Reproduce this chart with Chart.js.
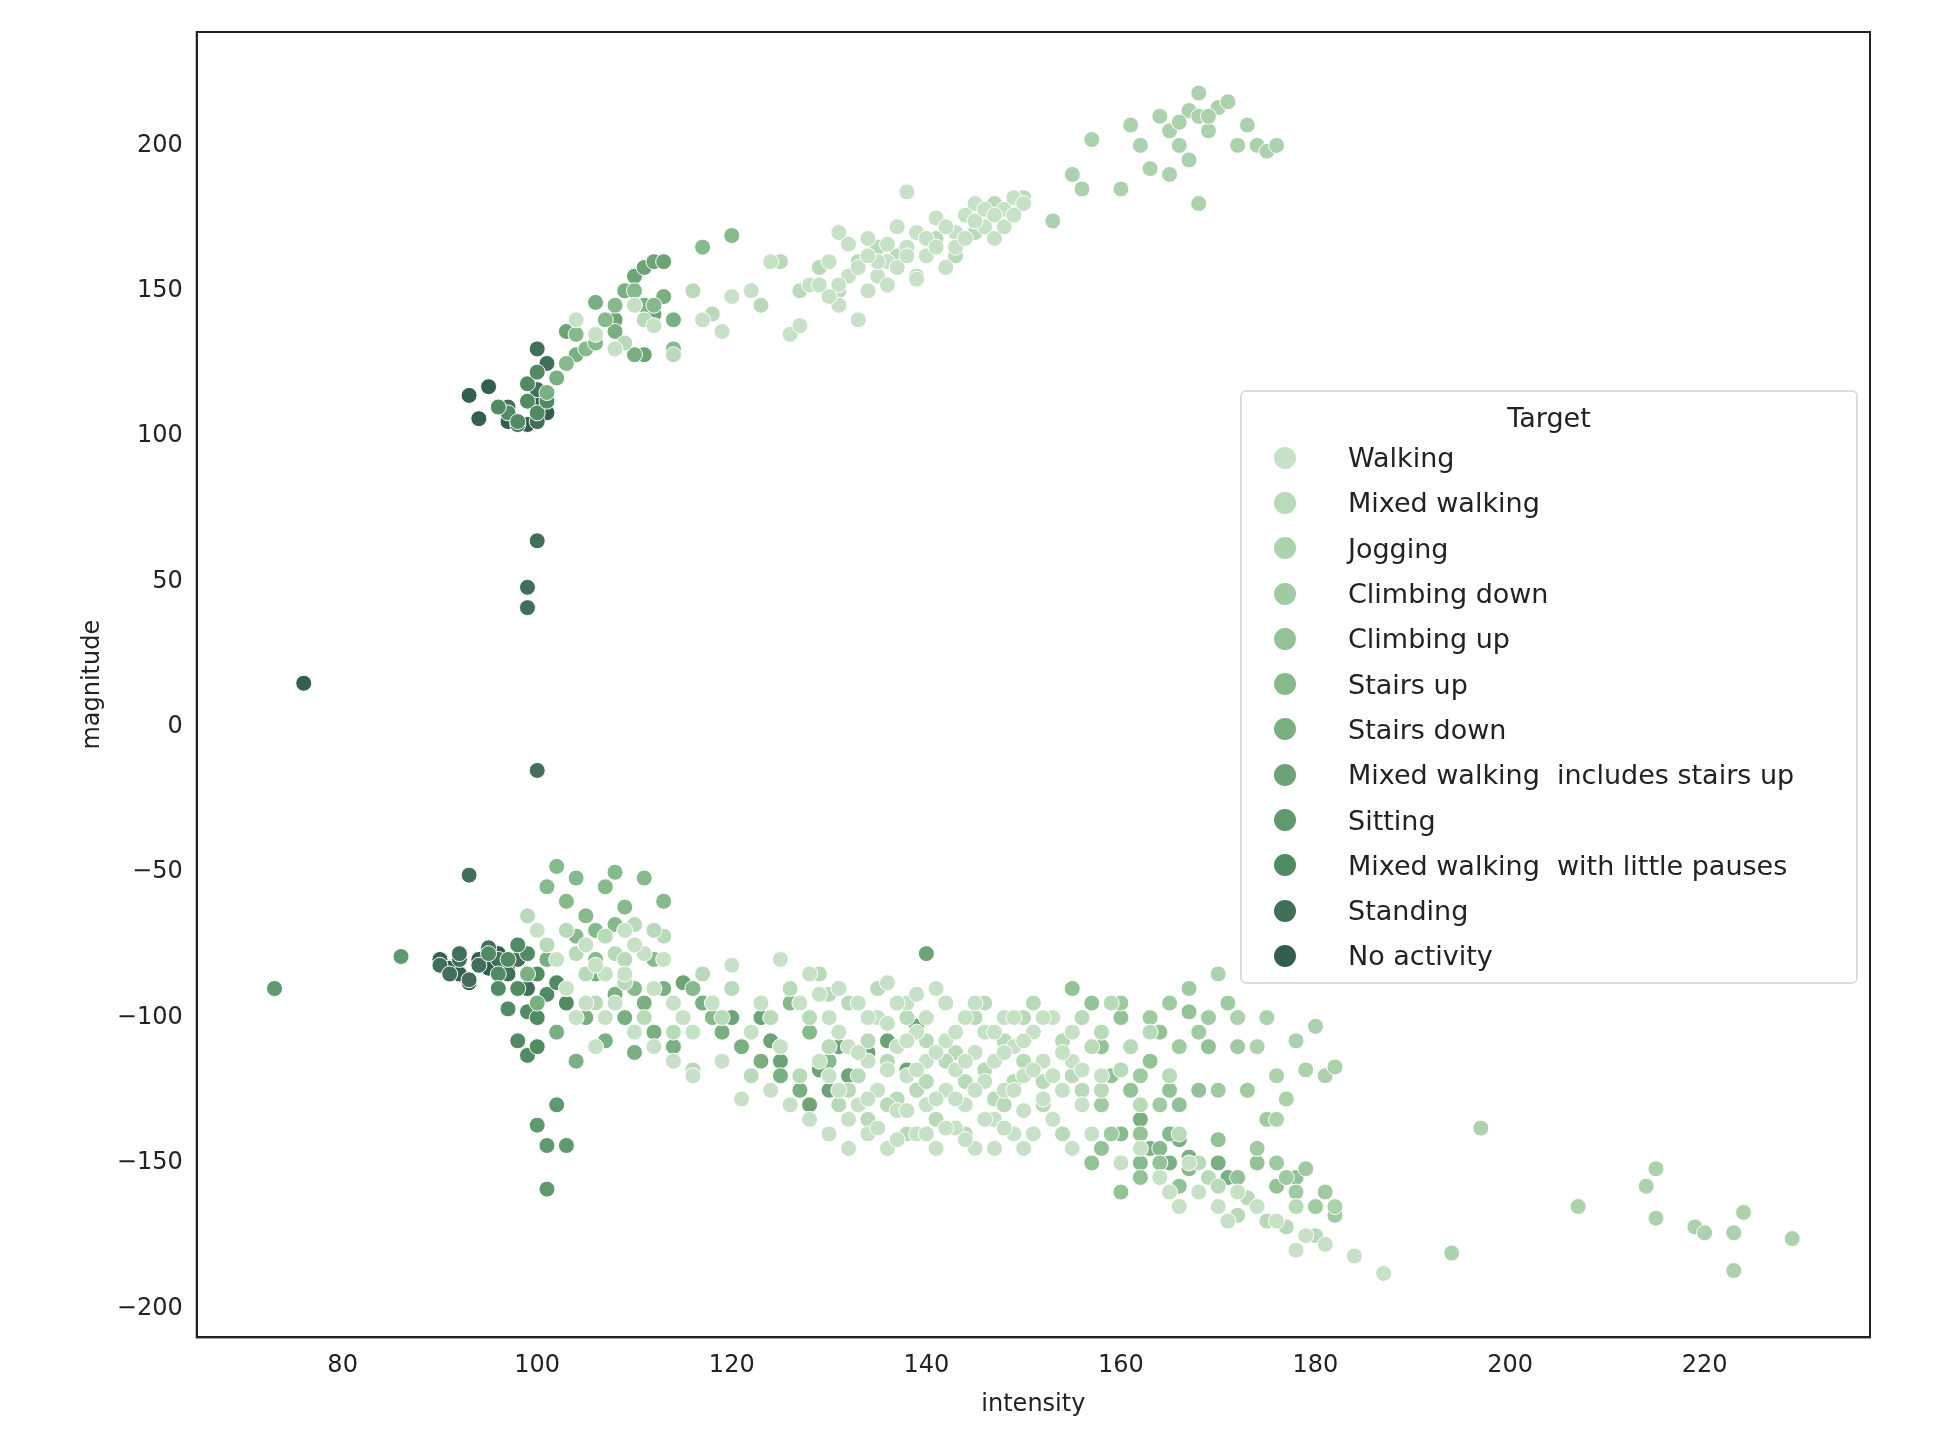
<!DOCTYPE html>
<html><head><meta charset="utf-8">
<script src="https://cdn.jsdelivr.net/npm/chart.js@4"></script>
<style>
body{margin:0;background:#fff;font-family:"DejaVu Sans",sans-serif;}
#wrap{position:relative;width:1944px;height:1443px;}
#legend{position:absolute;left:1240px;top:390px;width:618px;height:594px;border:2px solid #ddd;border-radius:6px;background:rgba(255,255,255,0.85);box-sizing:border-box;font-size:27px;color:#222;}
#legend .t{text-align:center;margin-top:10px;margin-bottom:2px;}
#legend .r{display:flex;align-items:center;height:45.3px;white-space:pre;}
#legend .d{width:22px;height:22px;border-radius:50%;margin-left:32px;margin-right:52px;}
</style></head><body>
<div id="wrap"><canvas id="c" width="1944" height="1443"></canvas><div id="legend"><div class="t">Target</div></div></div>
<script>
const categories=["Walking","Mixed walking","Jogging","Climbing down","Climbing up","Stairs up","Stairs down","Mixed walking  includes stairs up","Sitting","Mixed walking  with little pauses","Standing","No activity"];
const colors=["#c6e1c6","#b9dab9","#acd2ad","#a0caa1","#93c296","#86b98b","#79af81","#6ca477","#5f996e","#518b64","#426f5a","#335f4f"];
const walking=[[120,148],[122,150],[124,160],[126,135],[128,152],[130,160],[131,170],[132,166],[134,168],[135,155],[136,160],[137,172],[138,184],[138,165],[139,170],[140,162],[141,175],[142,158],[143,170],[144,176],[145,180],[146,172],[147,168],[148,178],[149,182],[150,180],[133,140],[131,145],[129,152],[127,138],[104,140],[106,135],[108,130],[110,145],[112,138],[117,140],[119,136],
[132,155],[133,158],[134,150],[135,160],[136,152],[137,158],[138,162],[139,154],[140,168],[141,165],[142,172],[143,165],[144,168],[145,174],[146,178],[147,176],[148,172],[149,176],[134,162],[136,166],[131,152],[130,148],
[100,-70],[102,-80],[103,-90],[104,-100],[105,-75],[106,-110],[107,-85],[108,-95],[109,-70],[110,-105],[112,-90],[113,-80],[114,-115],[115,-100],[116,-120],[118,-95],[119,-115],[120,-82],[121,-128],[122,-105],[123,-95],[124,-125],[125,-80],[125,-110],[126,-130],[127,-95],[128,-85],[128,-135],[129,-115],[130,-100],[130,-140],[131,-90],[131,-125],[132,-110],[132,-145],[133,-95],[133,-130],[134,-115],[134,-140],[135,-100],[135,-125],[136,-88],[136,-145],[137,-110],[137,-132],[138,-95],[138,-120],[139,-140],[139,-105],[140,-115],[140,-130],[141,-90],[141,-145],[142,-108],[142,-125],[143,-118],[143,-138],[144,-100],[144,-130],[145,-112],[145,-145],[146,-122],[146,-105],[147,-135],[147,-115],[148,-125],[148,-100],[149,-140],[149,-110],[150,-120],[150,-132],[151,-105],[151,-140],[152,-115],[152,-128],[153,-135],[153,-100],[154,-125],[155,-145],[155,-115],[156,-130],[157,-140],[158,-120],[160,-150],[162,-145],[164,-155],[165,-160],[166,-165],[167,-150],[168,-160],[170,-165],[171,-170],[172,-160],[174,-165],[176,-170],[178,-180],[179,-175],[181,-178],[184,-182],[187,-188],
[129,-92],[130,-120],[131,-105],[132,-135],[133,-112],[134,-100],[134,-128],[135,-138],[136,-118],[136,-102],[137,-95],[137,-142],[138,-108],[138,-132],[139,-118],[139,-92],[140,-100],[140,-140],[141,-112],[141,-128],[142,-95],[142,-138],[143,-105],[143,-128],[144,-115],[144,-142],[145,-95],[145,-125],[146,-135],[147,-105],[147,-145],[148,-112],[148,-138],[149,-100],[149,-125],[150,-108],[150,-145],[151,-118],[152,-100],[153,-120],[154,-112],[155,-105],[156,-118],[105,-95],[107,-100],[109,-85],[111,-78],[112,-110],[114,-95],[116,-105],[110,-75],[106,-82]];
const mixedWalking=[[123,145],[125,160],[127,150],[129,158],[131,150],[133,160],[135,165],[137,162],[139,155],[141,168],[143,162],[145,170],[147,180],[150,182],[109,132],[111,140],[114,128],[116,150],[118,142],
[99,-65],[101,-75],[103,-70],[105,-85],[106,-95],[108,-78],[109,-88],[110,-68],[111,-100],[113,-72],[114,-105],[116,-118],[117,-85],[119,-100],[120,-90],[122,-120],[124,-100],[126,-90],[127,-120],[129,-85],[130,-110],[131,-130],[132,-95],[133,-120],[134,-135],[135,-90],[136,-115],[137,-128],[138,-100],[139,-125],[140,-108],[141,-135],[142,-95],[143,-112],[144,-140],[145,-100],[146,-118],[147,-128],[148,-108],[149,-122],[150,-115],[151,-95],[152,-130],[154,-108],[155,-120],[156,-100],[157,-110],[158,-125],[159,-95],[161,-110],[162,-130],[163,-105],[165,-120],[166,-140],[168,-150],[169,-155],[170,-158],[172,-168],[173,-162],[175,-170],[177,-172],[178,-165],[180,-175],
[128,-100],[130,-92],[132,-125],[134,-108],[136,-130],[138,-140],[140,-122],[142,-115],[144,-122],[146,-95],[148,-130],[150,-100],[152,-122],[154,-140],[156,-125],[158,-105],[160,-118],[107,-72],[109,-80],[112,-70],[104,-78]];
const jogging=[[155,190],[156,185],[157,202],[160,185],[161,207],[162,200],[163,192],[164,210],[165,205],[165,190],[166,200],[167,212],[167,195],[168,210],[168,180],[169,205],[170,213],[171,215],[172,200],[173,207],[174,200],[175,198],[176,200],[153,174],[166,208],[168,218],[169,210],
[170,-85],[172,-100],[174,-110],[175,-100],[176,-120],[178,-108],[179,-118],[180,-103],[181,-120],[182,-117],[182,-165],[176,-135],[177,-128],[194,-181],[197,-138],[207,-165],[214,-158],[215,-152],[215,-169],[219,-172],[220,-174],[223,-174],[223,-187],[224,-167],[229,-176]];
const climbingDown=[[160,-95],[161,-110],[162,-120],[163,-100],[164,-130],[165,-95],[166,-110],[167,-90],[168,-105],[169,-100],[170,-125],[171,-95],[172,-110],[173,-125],[174,-145],[175,-135],[176,-150],[177,-155],[178,-160],[179,-152],[180,-165],[181,-160],[182,-168],[158,-130],[159,-140]];
const climbingUp=[[155,-90],[157,-95],[158,-110],[159,-120],[160,-100],[161,-125],[162,-140],[163,-115],[164,-105],[165,-125],[166,-130],[167,-98],[168,-125],[169,-110],[170,-142],[172,-155],[174,-150],[176,-158],[178,-155],[157,-150],[158,-145],[160,-160],[162,-155],[164,-150],[166,-158]];
const stairsUp=[[103,125],[105,130],[107,140],[108,145],[106,132],[104,135],[110,150],[112,145],[114,130],[117,165],[120,169],
[101,-55],[102,-48],[103,-60],[104,-52],[105,-65],[106,-70],[107,-55],[108,-50],[109,-62],[110,-75],[111,-52],[112,-80],[113,-60],[104,-72],[106,-80],[108,-68],[110,-90],[114,-95],[116,-90],[118,-100],[126,-95],[128,-105],[130,-115],[160,-140],[162,-150],[164,-145],[165,-140],[167,-152],[168,-160]];
const stairsDown=[[101,115],[102,120],[104,128],[106,146],[108,136],[109,150],[111,145],[113,148],[114,140],[110,128],
[99,-85],[100,-95],[101,-80],[102,-105],[103,-90],[104,-115],[105,-100],[106,-85],[107,-108],[108,-92],[109,-100],[110,-112],[111,-95],[112,-105],[113,-90],[114,-110],[115,-100],[117,-95],[119,-105],[121,-110],[123,-115],[125,-120],[127,-125],[162,-135],[163,-145],[165,-150],[166,-142],[167,-148],[170,-150],[171,-155]];
const mixedStairsUp=[[110,155],[111,158],[112,160],[113,160],[109,150],[112,142],[111,128],[108,140],[103,136],[117,165],
[125,-115],[127,-120],[128,-130],[129,-118],[130,-125],[131,-110],[132,-120],[134,-112],[135,-125],[136,-108],[138,-118],[139,-103],[140,-78],[123,-100],[124,-108],[120,-100],[118,-95],[115,-88]];
const sitting=[[86,-79],[73,-90],[100,-137],[101,-144],[103,-144],[101,-159],[102,-130]];
const mixedPauses=[[97,108],[98,105],[99,112],[100,108],[99,118],[100,122],[101,112],[96,110],
[95,-78],[96,-85],[97,-80],[98,-90],[99,-78],[100,-85],[101,-92],[99,-98],[98,-75],[100,-100],[102,-88],[103,-95],[101,-80],[97,-97],[96,-90],[98,-108],[99,-113],[100,-110]];
const standing=[[93,-51],[99,48],[99,41],[100,64],[100,-15],[90,-82],[91,-85],[92,-80],[93,-87],[94,-82],[95,-76],[96,-80],[97,-85],[92,-78],[98,-80],[99,-90],[100,105],[97,110],[98,104],[100,116],[100,130],[101,125]];
const noActivity=[[76,15],[93,114],[94,106],[95,117],[96,110],[97,105],[99,104],[100,113],[101,108],[90,-80],[91,-83],[92,-85],[93,-88],[94,-80],[95,-83],[96,-78],[97,-82],[98,-80]];
const seriesData=[walking,mixedWalking,jogging,climbingDown,climbingUp,stairsUp,stairsDown,mixedStairsUp,sitting,mixedPauses,standing,noActivity];
const xTicks=[80,100,120,140,160,180,200,220];
const yTicks=[200,150,100,50,0,-50,-100,-150,-200];

const leg=document.getElementById('legend');
categories.forEach((c,i)=>{const r=document.createElement('div');r.className='r';r.innerHTML='<span class="d" style="background:'+colors[i]+'"></span><span>'+c+'</span>';leg.appendChild(r);});

const tickFont={family:"DejaVu Sans",size:24};
new Chart(document.getElementById('c'),{
 type:'scatter',
 data:{datasets:seriesData.map((d,i)=>({label:categories[i],data:d.map(p=>({x:p[0],y:p[1]})),backgroundColor:colors[i],borderColor:'#ffffff',borderWidth:1,pointRadius:8}))},
 options:{responsive:false,animation:false,
  layout:{padding:{left:74,right:74,top:32,bottom:20}},
  plugins:{legend:{display:false},tooltip:{enabled:false}},
  scales:{
   x:{type:'linear',min:65,max:237,afterBuildTicks:a=>{a.ticks=xTicks.map(v=>({value:v}));},
      grid:{display:false,drawTicks:true,tickLength:8,tickColor:'#222'},border:{color:'#222',width:2},
      ticks:{font:tickFont,color:'#222',padding:6},title:{display:true,text:'intensity',font:tickFont,color:'#222'}},
   y:{type:'linear',min:-210,max:239,afterBuildTicks:a=>{a.ticks=yTicks.map(v=>({value:v}));},
      grid:{display:false,drawTicks:true,tickLength:8,tickColor:'#222'},border:{color:'#222',width:2},
      ticks:{font:tickFont,color:'#222',padding:6,callback:v=>String(v).replace('-','\u2212')},title:{display:true,text:'magnitude',font:tickFont,color:'#222'}}
  }},
 plugins:[{id:'frame',afterDraw(ch){const a=ch.chartArea,c=ch.ctx;c.save();c.strokeStyle='#222';c.lineWidth=2;c.strokeRect(a.left,a.top,a.right-a.left,a.bottom-a.top);c.restore();}}]
});
</script></body></html>
